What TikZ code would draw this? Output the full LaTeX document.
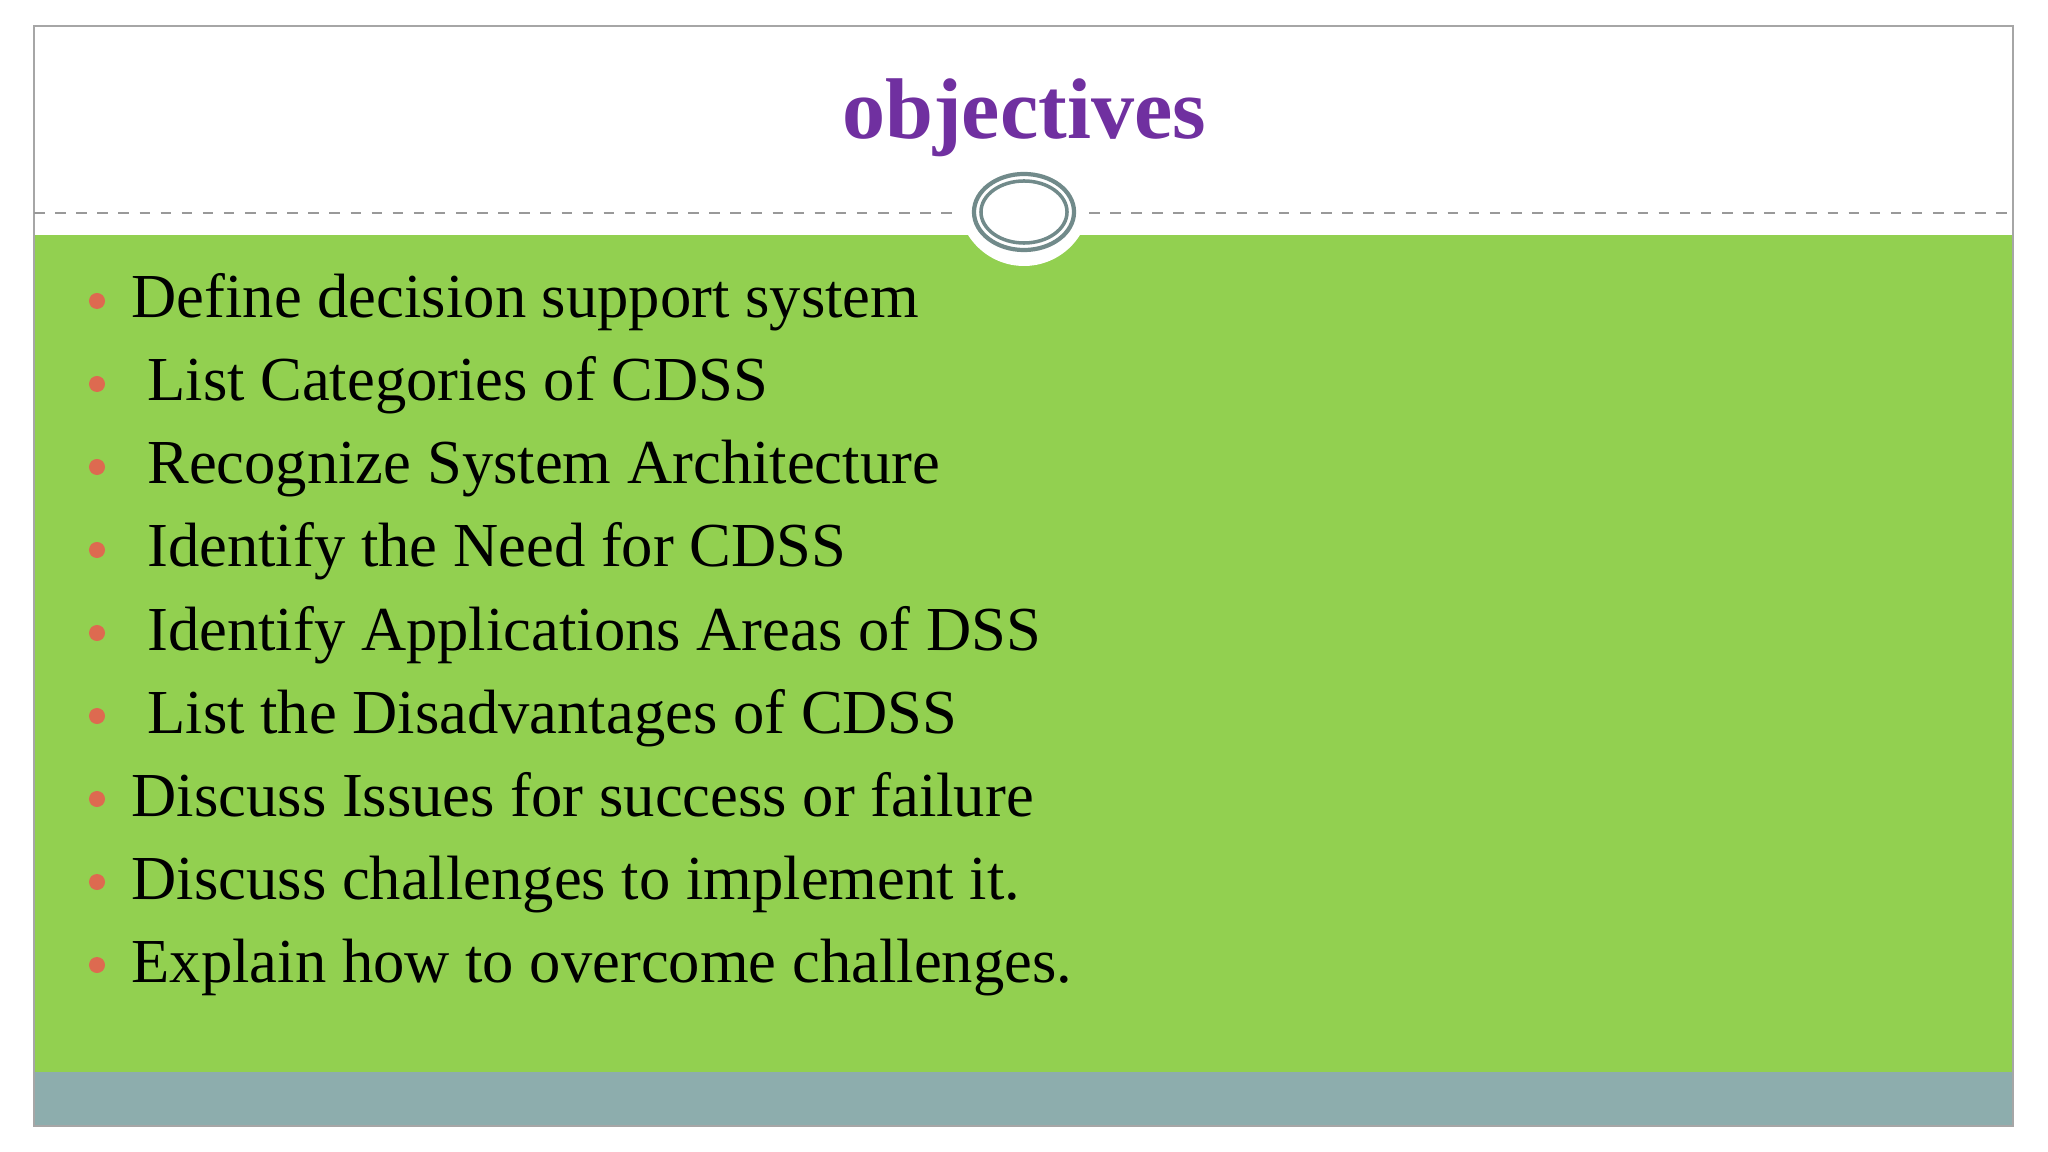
\documentclass[tikz,border=0pt]{standalone}
\usepackage{fontspec}
\usetikzlibrary{shapes.geometric}
\setmainfont{Liberation Serif}
\definecolor{grn}{HTML}{92D050}
\definecolor{teal}{HTML}{8DADAD}
\definecolor{purp}{HTML}{7030A0}
\definecolor{bul}{HTML}{DD6A50}
\begin{document}
\begin{tikzpicture}[x=0.01cm,y=-0.01cm,
  item/.style={anchor=base west,font=\fontsize{17.8}{21}\selectfont,inner sep=0pt},
  dot/.style={circle,fill=bul,minimum size=0.16cm,inner sep=0pt}]
\useasboundingbox (0,0) rectangle (2048,1152);
\fill[white] (0,0) rectangle (2048,1152);
\fill[grn] (34,235) rectangle (2013,1072);
\fill[teal] (34,1072) rectangle (2013,1126);
\draw[gray!70,line width=0.8pt] (34,26) rectangle (2013,1126);
\draw[gray!80,dashed,line width=0.6pt] (34,213) -- (2013,213);
\fill[white] (1024,200) circle (66);
\node[draw=teal!80!black,line width=1.2pt,ellipse,minimum width=1.0cm,minimum height=0.76cm,fill=white,inner sep=0pt] (e1) at (1024,212) {};
\node[draw=teal!80!black,line width=1pt,ellipse,minimum width=0.86cm,minimum height=0.62cm,inner sep=0pt] (e2) at (1024,212) {};
\node[text=purp,font=\fontsize{24.5}{30}\selectfont\bfseries] (title) at (1024,118) {objectives};
\foreach \t [count=\i] in {Define decision support system,{\ }List Categories of CDSS,{\ }Recognize System Architecture,{\ }Identify the Need for CDSS,{\ }Identify Applications Areas of DSS,{\ }List the Disadvantages of CDSS,Discuss Issues for success or failure,Discuss challenges to implement it.,Explain how to overcome challenges.}{
  \node[dot] (b\i) at (97,{301+83*(\i-1)}) {};
  \node[item] (t\i) at (131,{318+83*(\i-1)}) {\t};
}
\end{tikzpicture}
\end{document}
